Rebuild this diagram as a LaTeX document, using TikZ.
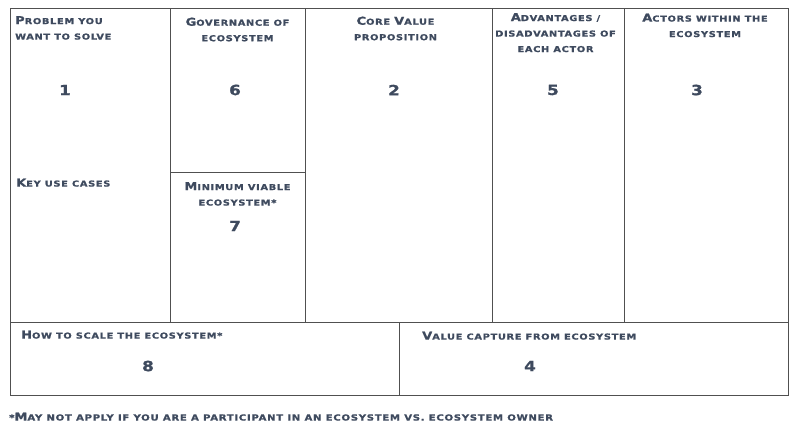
\documentclass[tikz,border=0pt]{standalone}
\usepackage{fontspec}
\newfontfamily\canvasfont[FakeStretch=1.2,LetterSpace=8,FakeBold=1.2,UprightFont={* Bold},BoldFont={* Bold}]{DejaVu Sans}
\usetikzlibrary{positioning}
\definecolor{slate}{RGB}{62,74,94}
\definecolor{rulegray}{RGB}{80,80,80}
\newcommand{\capl}[1]{{\fontsize{10.8}{15.5}\selectfont #1}}
\tikzset{
  cell/.style={draw=rulegray, line width=0.9pt},
  title/.style={font=\canvasfont\fontsize{8.2}{15.5}\selectfont, text=slate, inner sep=0pt, align=center, anchor=north},
  ltitle/.style={title, align=left, anchor=north west},
  note/.style={ltitle, font=\canvasfont\fontsize{8.45}{15.5}\selectfont},
  num/.style={font=\canvasfont\fontsize{14}{14}\selectfont, text=slate, inner sep=0pt}
}
\begin{document}
\begin{tikzpicture}[x=1pt, y=-1pt]
    \useasboundingbox (0,0) rectangle (800,431);

    % Define the grid
    \draw[cell] (10,8) rectangle (788,395);
    \draw[cell] (10,322) -- (788,322);
    \draw[cell] (170,8) -- (170,322);
    \draw[cell] (305,8) -- (305,322);
    \draw[cell] (492,8) -- (492,322);
    \draw[cell] (624,8) -- (624,322);
    \draw[cell] (170,172) -- (305,172);
    \draw[cell] (399,322) -- (399,395);

    % Define the titles
    \node[ltitle] (probT)  at (15,16)     {\capl{P}ROBLEM YOU\\WANT TO SOLVE};
    \node[ltitle] (keyT)   at (16,178.5)  {\capl{K}EY USE CASES};
    \node[title]  (govT)   at (237.5,17.5) {\capl{G}OVERNANCE OF\\ECOSYSTEM};
    \node[title]  (coreT)  at (395.5,16.5) {\capl{C}ORE \capl{V}ALUE\\PROPOSITION};
    \node[title]  (advT)   at (555.5,13)  {\capl{A}DVANTAGES /\\DISADVANTAGES OF\\EACH ACTOR};
    \node[title]  (actT)   at (705,13.5)  {\capl{A}CTORS WITHIN THE\\ECOSYSTEM};
    \node[title]  (mveT)   at (237.5,182) {\capl{M}INIMUM VIABLE\\ECOSYSTEM*};
    \node[ltitle] (scaleT) at (21,330.5)  {\capl{H}OW TO SCALE THE ECOSYSTEM*};
    \node[ltitle] (captT)  at (422,331.5) {\capl{V}ALUE CAPTURE FROM ECOSYSTEM};
    \node[note]   (noteT)  at (9,412.5)   {*\capl{M}AY NOT APPLY IF YOU ARE A PARTICIPANT IN AN ECOSYSTEM VS. ECOSYSTEM OWNER};

    % Define the numbers
    \node[num] (probN)  at (65,90)   {1};
    \node[num] (govN)   at (235,90)  {6};
    \node[num] (coreN)  at (394,90)  {2};
    \node[num] (advN)   at (553,90)  {5};
    \node[num] (actN)   at (697,90)  {3};
    \node[num] (mveN)   at (235,226) {7};
    \node[num] (scaleN) at (148,366) {8};
    \node[num] (captN)  at (530,366) {4};
\end{tikzpicture}
\end{document}
